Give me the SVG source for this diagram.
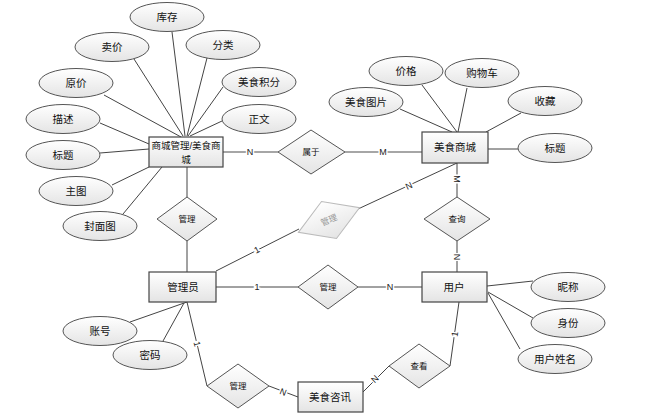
<svg xmlns="http://www.w3.org/2000/svg" width="662" height="420" viewBox="0 0 662 420">
<defs>
<linearGradient id="g" x1="0" y1="0" x2="0" y2="1">
<stop offset="0" stop-color="#ffffff"/>
<stop offset="1" stop-color="#e4e4e4"/>
</linearGradient>
<style>
.e{fill:url(#g);stroke:#555;stroke-width:1}
.r{fill:url(#g);stroke:#444;stroke-width:1.2}
.d{fill:url(#g);stroke:#555;stroke-width:1}
.t{font-family:"Liberation Sans","Noto Sans CJK SC",sans-serif;font-size:10.5px;fill:#111;text-anchor:middle;dominant-baseline:central}
.s{font-family:"Liberation Sans","Noto Sans CJK SC",sans-serif;font-size:8.5px;fill:#111;text-anchor:middle;dominant-baseline:central}
.l{font-family:"Liberation Sans","Noto Sans CJK SC",sans-serif;font-size:9px;fill:#222;text-anchor:middle;dominant-baseline:central;stroke:#fff;stroke-width:3;paint-order:stroke}
#c line{stroke:#444;stroke-width:1}
#c line.w{stroke:#888;stroke-width:1.6}
</style>
</defs>
<rect width="662" height="420" fill="#fff"/>
<g id="c">
<line x1="172" y1="32" x2="185" y2="136"/>
<line x1="134" y1="59" x2="183" y2="136"/>
<line x1="207" y1="58" x2="187" y2="136"/>
<line x1="104" y1="95" x2="181" y2="137"/>
<line x1="223" y1="87" x2="188" y2="136"/>
<line x1="100" y1="123" x2="149" y2="144"/>
<line x1="222" y1="121" x2="190" y2="136"/>
<line x1="100" y1="153" x2="149" y2="149"/>
<line x1="112" y1="185" x2="149" y2="167"/>
<line x1="123" y1="214" x2="162" y2="167"/>
<line class="w" x1="223" y1="152" x2="278" y2="152"/>
<line class="w" x1="345" y1="152" x2="422" y2="152"/>
<line x1="400" y1="109" x2="452" y2="132"/>
<line x1="422" y1="85" x2="457" y2="132"/>
<line x1="467" y1="88" x2="458" y2="132"/>
<line x1="521" y1="113" x2="486" y2="132"/>
<line x1="518" y1="149" x2="488" y2="149"/>
<line x1="187" y1="167" x2="187" y2="197"/>
<line x1="187" y1="241" x2="187" y2="272"/>
<line x1="216" y1="271" x2="299" y2="229"/>
<line x1="358" y1="209" x2="457" y2="163"/>
<line x1="457" y1="163" x2="457" y2="197"/>
<line x1="457" y1="241" x2="457" y2="272"/>
<line x1="216" y1="287" x2="298" y2="287"/>
<line x1="358" y1="287" x2="422" y2="287"/>
<line x1="487" y1="286" x2="533" y2="281"/>
<line x1="488" y1="292" x2="533" y2="318"/>
<line x1="488" y1="293" x2="520" y2="349"/>
<line x1="187" y1="302" x2="130" y2="322"/>
<line x1="184" y1="303" x2="163" y2="341"/>
<line x1="187" y1="302" x2="207" y2="386"/>
<line x1="269" y1="386" x2="298" y2="397"/>
<line x1="459" y1="302" x2="450" y2="366"/>
<line x1="389" y1="366" x2="363" y2="392"/>
</g>
<g id="lbl">
<text class="l" x="250" y="152">N</text>
<text class="l" x="383" y="152">M</text>
<text class="l" x="409" y="186" transform="rotate(-25 409 186)">N</text>
<text class="l" x="457" y="179" transform="rotate(90 457 179)">M</text>
<text class="l" x="457" y="257" transform="rotate(90 457 257)">N</text>
<text class="l" x="257" y="250" transform="rotate(-27 257 250)">1</text>
<text class="l" x="257" y="287">1</text>
<text class="l" x="390" y="287">N</text>
<text class="l" x="197" y="344" transform="rotate(76 197 344)">1</text>
<text class="l" x="283" y="392" transform="rotate(21 283 392)">N</text>
<text class="l" x="455" y="334" transform="rotate(-82 455 334)">1</text>
<text class="l" x="375" y="379" transform="rotate(-45 375 379)">N</text>
</g>
<g id="a-kucun"><ellipse class="e" cx="167" cy="17" rx="37" ry="14.5"/><text class="t" x="167" y="17">库存</text></g>
<g id="a-maijia"><ellipse class="e" cx="112" cy="47" rx="37" ry="14.5"/><text class="t" x="112" y="47">卖价</text></g>
<g id="a-fenlei"><ellipse class="e" cx="223" cy="45" rx="37" ry="14.5"/><text class="t" x="223" y="45">分类</text></g>
<g id="a-yuanjia"><ellipse class="e" cx="76" cy="83" rx="37" ry="14.5"/><text class="t" x="76" y="83">原价</text></g>
<g id="a-jifen"><ellipse class="e" cx="259" cy="82" rx="37" ry="14.5"/><text class="t" x="259" y="82">美食积分</text></g>
<g id="a-miaoshu"><ellipse class="e" cx="63" cy="119" rx="37" ry="14.5"/><text class="t" x="63" y="119">描述</text></g>
<g id="a-zhengwen"><ellipse class="e" cx="259" cy="119" rx="37" ry="14.5"/><text class="t" x="259" y="119">正文</text></g>
<g id="a-biaoti1"><ellipse class="e" cx="63" cy="155" rx="37" ry="14.5"/><text class="t" x="63" y="155">标题</text></g>
<g id="a-zhutu"><ellipse class="e" cx="76" cy="191" rx="37" ry="14.5"/><text class="t" x="76" y="191">主图</text></g>
<g id="a-fengmian"><ellipse class="e" cx="100" cy="226" rx="37" ry="14.5"/><text class="t" x="100" y="226">封面图</text></g>
<g id="e-shangcheng"><rect class="r" x="149" y="137" width="74" height="30"/><text class="t" x="186" y="145" style="font-size:9.5px">商城管理/美食商</text><text class="t" x="186" y="159" style="font-size:9.5px">城</text></g>
<g id="r-shuyu"><polygon class="d" points="278,152 311,130 345,152 311,174"/><text class="s" x="311" y="152">属于</text></g>
<g id="a-jiage"><ellipse class="e" cx="406" cy="71" rx="37" ry="14.5"/><text class="t" x="406" y="71">价格</text></g>
<g id="a-gouwuche"><ellipse class="e" cx="482" cy="73" rx="37" ry="14.5"/><text class="t" x="482" y="73">购物车</text></g>
<g id="a-tupian"><ellipse class="e" cx="366" cy="102" rx="37" ry="14.5"/><text class="t" x="366" y="102">美食图片</text></g>
<g id="a-shoucang"><ellipse class="e" cx="545" cy="101" rx="37" ry="14.5"/><text class="t" x="545" y="101">收藏</text></g>
<g id="a-biaoti2"><ellipse class="e" cx="555" cy="148" rx="37" ry="14.5"/><text class="t" x="555" y="148">标题</text></g>
<g id="e-meishi"><rect class="r" x="422" y="132" width="66" height="31"/><text class="t" x="455" y="147">美食商城</text></g>
<g id="r-guanli1"><polygon class="d" points="157,219 187,197 217,219 187,241"/><text class="s" x="187" y="219">管理</text></g>
<g id="r-guanli-gray" transform="rotate(-22 329 220)"><polygon points="296,220 329,200 362,220 329,240" fill="url(#g)" stroke="#bbb" stroke-width="1"/><text class="s" x="329" y="220" style="fill:#999">管理</text></g>
<g id="r-chaxun"><polygon class="d" points="424,219 457,197 490,219 457,241"/><text class="s" x="457" y="219">查询</text></g>
<g id="e-admin"><rect class="r" x="149" y="272" width="67" height="30"/><text class="t" x="183" y="287">管理员</text></g>
<g id="r-guanli2"><polygon class="d" points="298,287 328,265 358,287 328,309"/><text class="s" x="328" y="287">管理</text></g>
<g id="e-user"><rect class="r" x="422" y="272" width="65" height="30"/><text class="t" x="454" y="287">用户</text></g>
<g id="a-nicheng"><ellipse class="e" cx="568" cy="287" rx="37" ry="14.5"/><text class="t" x="568" y="287">昵称</text></g>
<g id="a-shenfen"><ellipse class="e" cx="568" cy="323" rx="37" ry="14.5"/><text class="t" x="568" y="323">身份</text></g>
<g id="a-xingming"><ellipse class="e" cx="555" cy="359" rx="37" ry="14.5"/><text class="t" x="555" y="359">用户姓名</text></g>
<g id="a-zhanghao"><ellipse class="e" cx="100" cy="331" rx="37" ry="14.5"/><text class="t" x="100" y="331">账号</text></g>
<g id="a-mima"><ellipse class="e" cx="150" cy="355" rx="37" ry="14.5"/><text class="t" x="150" y="355">密码</text></g>
<g id="r-guanli3"><polygon class="d" points="207,386 238,364 269,386 238,408"/><text class="s" x="238" y="386">管理</text></g>
<g id="e-zixun"><rect class="r" x="298" y="382" width="65" height="30"/><text class="t" x="330" y="397">美食咨讯</text></g>
<g id="r-chakan"><polygon class="d" points="389,366 419,344 450,366 419,388"/><text class="s" x="419" y="366">查看</text></g>
</svg>
